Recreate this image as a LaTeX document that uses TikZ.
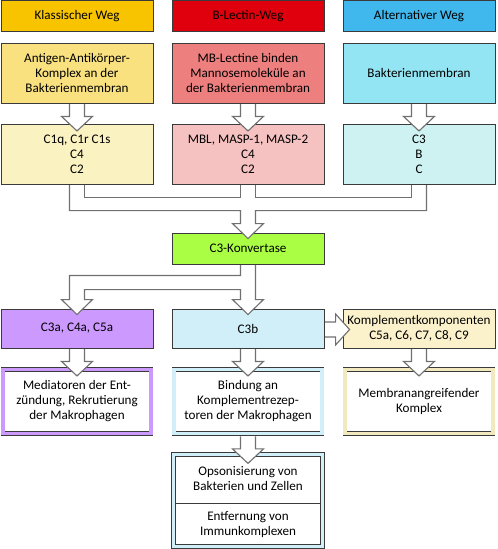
\documentclass[tikz,border=0pt]{standalone}
\usepackage{fontspec}
\setmainfont{Carlito}
\usetikzlibrary{calc}

\definecolor{boxline}{HTML}{3A3A3A}
\definecolor{arrowline}{HTML}{707070}
\definecolor{klassHd}{HTML}{F8C400}
\definecolor{lectinHd}{HTML}{E0000D}
\definecolor{altHd}{HTML}{40B8EE}
\definecolor{klassLt}{HTML}{F9E17F}
\definecolor{lectinLt}{HTML}{EE7F7F}
\definecolor{altLt}{HTML}{93E5F3}
\definecolor{klassPl}{HTML}{FBF2C2}
\definecolor{lectinPl}{HTML}{F6C1C1}
\definecolor{altPl}{HTML}{CEF2F2}
\definecolor{konvFill}{HTML}{AAFF44}
\definecolor{violet}{HTML}{CC99FF}
\definecolor{skyPl}{HTML}{D1EFF8}
\definecolor{creamPl}{HTML}{FBF1CA}
\definecolor{creamBd}{HTML}{F3E9BE}

\begin{document}
\begin{tikzpicture}[x=0.8pt,y=-0.8pt,node distance=136.8pt,
  font=\fontsize{10.5}{12}\selectfont,
  box/.style={draw=boxline,line width=0.7pt,minimum width=121.6pt,inner sep=0pt,align=center},
  head/.style={box,minimum height=24.8pt},
  tall/.style={box,minimum height=48pt},
  flat/.style={box,minimum height=31.2pt},
  band/.style={draw=boxline,line width=0.6pt,double=#1,double distance=2.6pt},
  dbl/.style={band=#1,fill=white,minimum width=118.4pt,minimum height=51.2pt,inner sep=0pt,align=center},
  blk/.style={draw=arrowline,line width=0.9pt,fill=white}]
  \useasboundingbox (0,0) rectangle (497,549);

  \node[head,fill=klassHd] (klassH) at (77,15.8) {Klassischer Weg};
  \node[head,fill=lectinHd] (lectinH) [right of=klassH] {B-Lectin-Weg};
  \node[head,fill=altHd] (altH) [right of=lectinH] {Alternativer Weg};

  \node[tall,fill=klassLt] (klassA) at (77,73) {Antigen-Antikörper-\\Komplex an der\\Bakterienmembran};
  \node[tall,fill=lectinLt] (lectinA) [right of=klassA] {MB-Lectine binden\\Mannosemoleküle an\\der Bakterienmembran};
  \node[tall,fill=altLt] (altA) [right of=lectinA] {Bakterienmembran};

  \node[tall,fill=klassPl] (klassC) at (77,154) {C1q, C1r C1s\\C4\\C2};
  \node[tall,fill=lectinPl] (lectinC) [right of=klassC] {MBL, MASP-1, MASP-2\\C4\\C2};
  \node[tall,fill=altPl] (altC) [right of=lectinC] {C3\\B\\C};

  \node[head,fill=konvFill] (konv) at (248,248.5) {C3-Konvertase};

  \node[flat,fill=violet] (c3a) at (77,328.5) {C3a, C4a, C5a};
  \node[flat,fill=skyPl] (c3b) [right of=c3a] {C3b};
  \node[flat,fill=creamPl] (komp) [right of=c3b] {Komplementkomponenten\\C5a, C6, C7, C8, C9};

  \node[dbl=violet] (mediat) at (77,401.5) {Mediatoren der Ent-\\zündung, Rekrutierung\\der Makrophagen};
  \node[dbl=skyPl] (bindung) [right of=mediat] {Bindung an\\Komplementrezep-\\toren der Makrophagen};
  \node[dbl=creamBd] (komplex) [right of=bindung] {Membranangreifender\\Komplex};

  \node[minimum width=118.4pt,minimum height=38.4pt,inner sep=0pt,align=center] (opson) at (248,479) {Opsonisierung von\\Bakterien und Zellen};
  \node[minimum width=118.4pt,minimum height=34.4pt,inner sep=0pt,align=center] (entf) at (248,524.5) {Entfernung von\\Immunkomplexen};
  \draw[band=skyPl] (opson.north west) rectangle (entf.south east);
  \draw[boxline,line width=0.6pt] ($(opson.south west)+(2,0)$) -- ($(opson.south east)+(-2,0)$);

  % block arrows
  \foreach \n/\o in {klassA/0.6,lectinA/0.6,altA/0.6,c3a/0.6,c3b/0.6,komp/0.6,bindung/2.6}
    \draw[blk] ($(\n.south)+(-7.5,\o)$) -- ++(0,12.4) -- ++(-8,0) -- ++(15.5,14.5)
      -- ++(15.5,-14.5) -- ++(-8,0) -- ($(\n.south)+(7.5,\o)$);

  \draw[blk] ($(klassC.south)+(-7.5,0.6)$) |- ($(konv.north)+(-7.5,-22)$) -- ($(konv.north)+(-7.5,-9)$)
    -- ++(-8,0) -- ($(konv.north)+(0,6)$) -- ($(konv.north)+(15.5,-9)$) -- ++(-8,0)
    -- ($(konv.north)+(7.5,-22)$) -| ($(altC.south)+(7.5,0.6)$);
  \draw[blk,fill=none] ($(klassC.south)+(7.5,0.6)$) |- ($(lectinC.south)+(-7.5,13)$) -- ($(lectinC.south)+(-7.5,0.6)$);
  \draw[blk,fill=none] ($(lectinC.south)+(7.5,0.6)$) |- ($(altC.south)+(-7.5,13)$) -- ($(altC.south)+(-7.5,0.6)$);

  \draw[blk] ($(konv.south)+(-7.5,0.6)$) -- ($(konv.south)+(-7.5,11)$) -| ($(c3a.north)+(-7.5,-9)$)
    -- ++(-8,0) -- ($(c3a.north)+(0,6)$) -- ($(c3a.north)+(15.5,-9)$) -- ++(-8,0)
    -- ($(c3a.north)+(7.5,-19)$) -| ($(c3b.north)+(-7.5,-9)$) -- ++(-8,0) -- ($(c3b.north)+(0,6)$)
    -- ($(c3b.north)+(15.5,-9)$) -- ++(-8,0) -- ($(konv.south)+(7.5,0.6)$);

  \draw[blk] ($(c3b.east)+(0.6,-6.5)$) -- ($(komp.west)+(-7,-6.5)$) -- ++(0,-8) -- ($(komp.west)+(7,1)$)
    -- ($(komp.west)+(-7,16.5)$) -- ++(0,-8) -- ($(c3b.east)+(0.6,8.5)$);
\end{tikzpicture}
\end{document}
